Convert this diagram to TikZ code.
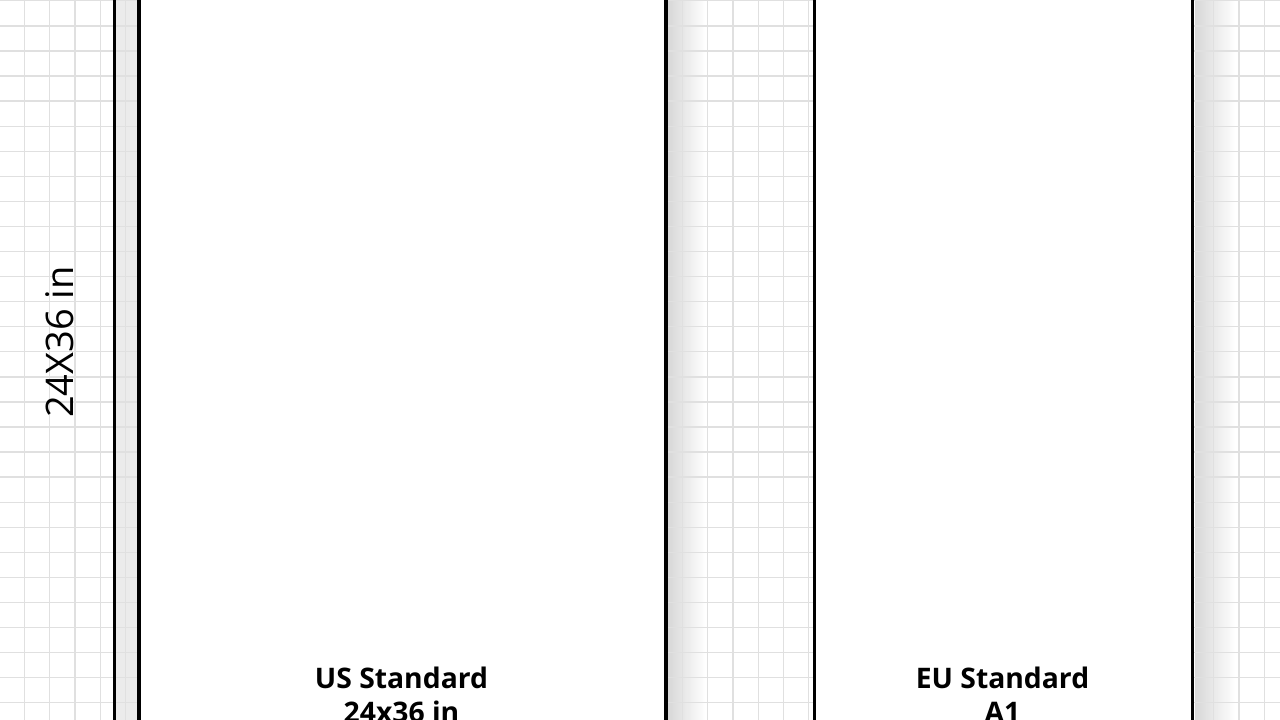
\documentclass[tikz,border=0pt]{standalone}
\usepackage{fontspec}
\setmainfont{Open Sans}
\newfontfamily\lblfont{Open Sans}[BoldFont={* Bold}]
\usetikzlibrary{fadings}
\begin{document}
\begin{tikzpicture}[x=1pt,y=-1pt,
  gridline/.style={draw=black!12,line width=1.3pt},
  poster/.style={draw=black,fill=white,line width=3.2pt,minimum height=900pt,inner sep=0pt},
  shadowstrip/.style={left color=black!17,right color=white,draw=none,opacity=0.9},
  lbl/.style={font=\lblfont\bfseries\fontsize{28.3}{32}\selectfont,anchor=base,inner sep=0pt},
  sidelbl/.style={font=\fontsize{38}{40}\selectfont,rotate=90,inner sep=0pt}]
\useasboundingbox (0,0) rectangle (1280,720);
\clip (0,0) rectangle (1280,720);
\fill[white] (0,0) rectangle (1280,720);
% shadows
\shade[shadowstrip] (668,0) rectangle (705,720);
\shade[shadowstrip] (1195,0) rectangle (1235,720);
\fill[black!8] (115,0) rectangle (137,720);
% grid
\foreach \i in {0,...,50} \draw[gridline] ({24.5+25.3*\i},0) -- ({24.5+25.3*\i},720);
\foreach \j in {0,...,29} \draw[gridline] (0,{0.8+25.07*\j}) -- (1280,{0.8+25.07*\j});
% back poster edge
\draw[line width=3pt] (114.5,-10) -- (114.5,730);
% posters
\node[poster,minimum width=527pt] (us) at (402.5,360) {};
\node[poster,minimum width=378pt] (eu) at (1003.5,360) {};
% labels
\node[sidelbl] (side) at (60,342) {24X36 in};
\node[lbl] (ust) at (401.5,688) {US Standard};
\node[lbl] (usd) at (401.5,722) {24x36 in};
\node[lbl] (eut) at (1002.5,688) {EU Standard};
\node[lbl] (eud) at (1002.5,722) {A1};
\end{tikzpicture}
\end{document}
